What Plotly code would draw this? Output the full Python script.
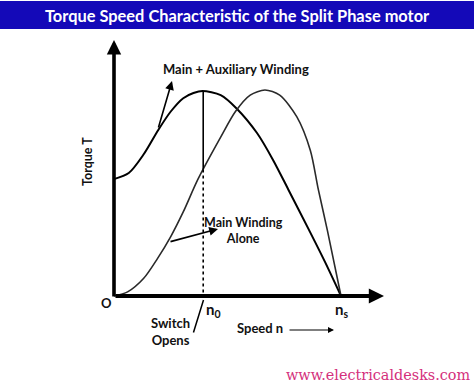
import numpy as np
import plotly.graph_objects as go

# ---- data (speed as fraction of synchronous speed, torque normalised) ----
speed_main_aux = [0, 0.065, 0.13, 0.195, 0.25, 0.305, 0.35, 0.39, 0.47, 0.54, 0.63, 0.70, 0.77, 0.86, 0.93, 1.0]
torque_main_aux = [0.57, 0.60, 0.69, 0.81, 0.90, 0.965, 0.99, 1.0, 0.98, 0.915, 0.795, 0.665, 0.515, 0.32, 0.165, 0.0]

speed_main = [0, 0.06, 0.13, 0.19, 0.25, 0.305, 0.37, 0.47, 0.535, 0.60, 0.665, 0.73, 0.805, 0.865, 0.90, 0.94, 1.0]
torque_main = [0, 0.02, 0.085, 0.18, 0.29, 0.41, 0.57, 0.775, 0.90, 0.98, 1.005, 0.98, 0.875, 0.71, 0.52, 0.32, 0]

n0 = 0.393          # switch-opening speed
ns = 1.0            # synchronous speed
tick_labels = ["O", "n<sub>0</sub>", "n<sub>s</sub>"]
title_text = "Torque Speed Characteristic of the Split Phase motor"
site_text = "www.electricaldesks.com"

# ---- pixel <-> data helpers for layout placement ----
X0PX, XSCALE, Y0PX, YSCALE = 114, 227, 296, 205
def X(px):
    return (px - X0PX) / XSCALE
def Y(py):
    return (Y0PX - py) / YSCALE

t_aux_n0 = float(np.interp(n0, speed_main_aux, torque_main_aux))
t_main_n0 = float(np.interp(n0, speed_main, torque_main))

FONT = "Lato"
fig = go.Figure()

fig.add_trace(go.Scatter(x=speed_main_aux, y=torque_main_aux, mode="lines",
                         line=dict(color="#000000", width=2.0, shape="spline", smoothing=0.8),
                         hoverinfo="skip"))
fig.add_trace(go.Scatter(x=speed_main, y=torque_main, mode="lines",
                         line=dict(color="#2a2a2a", width=1.6, shape="spline", smoothing=0.8),
                         hoverinfo="skip"))
# vertical line at n0: solid between curves, dotted down to axis
fig.add_trace(go.Scatter(x=[n0, n0], y=[t_aux_n0, t_main_n0], mode="lines",
                         line=dict(color="#000000", width=1.6), hoverinfo="skip"))
fig.add_trace(go.Scatter(x=[n0, n0], y=[t_main_n0, 0], mode="lines",
                         line=dict(color="#000000", width=1.6, dash="dot"), hoverinfo="skip"))

ann = []
# axes with arrows
ann.append(dict(x=X(384), y=0, ax=0, ay=0, xref="x", yref="y", axref="x", ayref="y",
                text="", showarrow=True, arrowhead=2, arrowsize=0.8, arrowwidth=3.8,
                arrowcolor="#000000", standoff=0, startstandoff=0))
ann.append(dict(x=0, y=Y(40), ax=0, ay=Y(298), xref="x", yref="y", axref="x", ayref="y",
                text="", showarrow=True, arrowhead=2, arrowsize=0.8, arrowwidth=3.6,
                arrowcolor="#000000", standoff=0))
# pointer arrows
ann.append(dict(x=X(172), y=Y(81), ax=X(158), ay=Y(129), xref="x", yref="y", axref="x", ayref="y",
                text="", showarrow=True, arrowhead=2, arrowsize=1.1, arrowwidth=1.6,
                arrowcolor="#000000", standoff=0))
ann.append(dict(x=X(218), y=Y(229), ax=X(169), ay=Y(242), xref="x", yref="y", axref="x", ayref="y",
                text="", showarrow=True, arrowhead=2, arrowsize=1.1, arrowwidth=1.6,
                arrowcolor="#000000", standoff=0))
ann.append(dict(x=X(203.5), y=Y(300), ax=X(193), ay=Y(334), xref="x", yref="y", axref="x", ayref="y",
                text="", showarrow=True, arrowhead=0, arrowwidth=1.5,
                arrowcolor="#000000", standoff=0))
ann.append(dict(x=X(334), y=Y(330), ax=X(288), ay=Y(330), xref="x", yref="y", axref="x", ayref="y",
                text="", showarrow=True, arrowhead=2, arrowsize=1.0, arrowwidth=1.2,
                arrowcolor="#000000", standoff=0))

def label(txt, px, py, size=13, bold=True, color="#111111", family=FONT, angle=0):
    return dict(x=X(px), y=Y(py), xref="x", yref="y", showarrow=False,
                text=("<b>%s</b>" % txt) if bold else txt, textangle=angle,
                font=dict(family=family, size=size, color=color),
                xanchor="center", yanchor="middle")

ann.append(label("Main + Auxiliary Winding", 236, 69, size=13))
ann.append(label("Main Winding<br>Alone", 243, 230, size=12.5))
ann.append(label("Switch<br>Opens", 170, 331, size=13))
ann.append(label("Speed n", 260, 328, size=13))
ann.append(label("Torque T", 87, 162, size=12.5, angle=-90))
ann.append(dict(x=0, y=0, xref="x", yref="y", showarrow=False, text="<b>%s</b>" % tick_labels[0],
                font=dict(family=FONT, size=13, color="#111111"), xshift=-8, yshift=-7))
ann.append(dict(x=n0, y=0, xref="x", yref="y", showarrow=False, text="<b>%s</b>" % tick_labels[1],
                font=dict(family=FONT, size=15, color="#111111"), xanchor="left", yanchor="top",
                xshift=1, yshift=-2))
ann.append(dict(x=ns, y=0, xref="x", yref="y", showarrow=False, text="<b>%s</b>" % tick_labels[2],
                font=dict(family=FONT, size=15, color="#111111"), xanchor="center", yanchor="top",
                yshift=-2))
# title banner text and website
ann.append(dict(x=0.5, y=1 - 15 / 384, xref="paper", yref="paper", showarrow=False,
                text="<b>%s</b>" % title_text, font=dict(family=FONT, size=16.4, color="#ffffff"),
                xanchor="center", yanchor="middle"))
ann.append(dict(x=1 - 1 / 474, y=1 - 375 / 384, xref="paper", yref="paper", showarrow=False,
                text=site_text, font=dict(family="DejaVu Serif", size=14.4, color="#d4307c"),
                xanchor="right", yanchor="middle"))

fig.update_layout(
    width=474, height=384, margin=dict(l=0, r=0, t=0, b=0),
    paper_bgcolor="#ffffff", plot_bgcolor="#ffffff", showlegend=False,
    xaxis=dict(range=[X(0), X(474)], visible=False, fixedrange=True),
    yaxis=dict(range=[Y(384), Y(0)], visible=False, fixedrange=True),
    annotations=ann,
    shapes=[dict(type="rect", xref="paper", yref="paper", x0=0, x1=1,
                 y0=1 - 29 / 384, y1=1 - 1 / 384, fillcolor="#1409b8",
                 line=dict(width=0), layer="below")],
)

fig.write_html("out.html", config={"displayModeBar": False},
               post_script="document.body.style.margin='0';document.body.style.overflow='hidden';")
